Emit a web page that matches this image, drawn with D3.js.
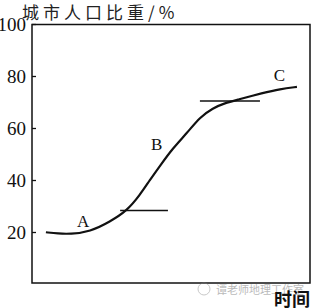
<!DOCTYPE html>
<html><head><meta charset="utf-8">
<script src="https://cdn.jsdelivr.net/npm/d3@7/dist/d3.min.js"></script>
<style>body{margin:0;background:#fff}svg{display:block}</style>
</head><body>
<script>
const yTicks = [20, 40, 60, 80, 100];
const curveT = [5.0, 9.4, 13.7, 20.9, 28.1, 34.2, 38.8, 42.4, 46.0, 50.7, 55.8, 60.4, 65.1, 69.4, 73.7, 83.1, 89.2, 95.3];
const curveV = [19.9, 19.4, 19.2, 20.1, 24.0, 28.2, 34.2, 40.0, 45.4, 52.3, 58.1, 64.2, 67.7, 69.6, 70.8, 73.5, 75.0, 75.8];
const stageNames = ["A", "B", "C"];
const stageT = [16.2, 42.8, 87.0];
const stageV = [21.9, 51.5, 78.1];
const markT1 = [31.7, 60.4];
const markT2 = [48.9, 82.0];
const markV = [28.3, 70.4];

const W = 312, H = 308;
const svg = d3.select("body").append("svg").attr("width", W).attr("height", H);
const x = d3.scaleLinear().domain([0, 100]).range([32, 310]);
const y = d3.scaleLinear().domain([0, 100]).range([284, 24]);

svg.append("rect").attr("x", 32).attr("y", 24.5).attr("width", 278).attr("height", 258.5)
  .attr("fill", "none").attr("stroke", "#111").attr("stroke-width", 1.5);

const ax = svg.append("g").attr("transform", "translate(32,0)")
  .call(d3.axisLeft(y).tickValues(yTicks).tickSize(-4).tickPadding(6).tickFormat(d3.format("d")));
ax.select(".domain").remove();
ax.selectAll("line").attr("stroke", "#111").attr("stroke-width", 1.3);
ax.selectAll("text").attr("font-family", "'Liberation Serif', 'Times New Roman', serif")
  .attr("font-size", 19).attr("fill", "#111");

const pts = curveT.map((t, i) => [t, curveV[i]]);
svg.append("path").datum(pts)
  .attr("d", d3.line().x(d => x(d[0])).y(d => y(d[1])).curve(d3.curveBasis))
  .attr("fill", "none").attr("stroke", "#111").attr("stroke-width", 2.2);

markV.forEach((v, i) => {
  svg.append("line").attr("x1", x(markT1[i])).attr("x2", x(markT2[i]))
    .attr("y1", y(v)).attr("y2", y(v)).attr("stroke", "#111").attr("stroke-width", 1.5);
});

stageNames.forEach((s, i) => {
  svg.append("text").attr("x", x(stageT[i])).attr("y", y(stageV[i]))
    .attr("font-family", "'Liberation Serif', 'Times New Roman', serif")
    .attr("font-size", 17).attr("fill", "#111").text(s);
});

svg.append("text").attr("x", 22).attr("y", 19)
  .attr("font-family", "'Noto Sans CJK SC', serif").attr("font-size", 17)
  .attr("letter-spacing", "4px").attr("fill", "#222").text("城市人口比重/%");

const wm = svg.append("g").attr("opacity", 0.45);
wm.append("circle").attr("cx", 204).attr("cy", 289).attr("r", 6).attr("fill", "none").attr("stroke", "#888").attr("stroke-width", 1);
wm.append("text").attr("x", 216).attr("y", 294).attr("font-family", "'Noto Sans CJK SC', sans-serif")
  .attr("font-size", 11).attr("fill", "#666").text("谭老师地理工作室");

svg.append("text").attr("x", 274).attr("y", 306)
  .attr("font-family", "'Noto Sans CJK SC', serif").attr("font-size", 18).attr("font-weight", "bold")
  .attr("fill", "#111").text("时间");
</script>
</body></html>
